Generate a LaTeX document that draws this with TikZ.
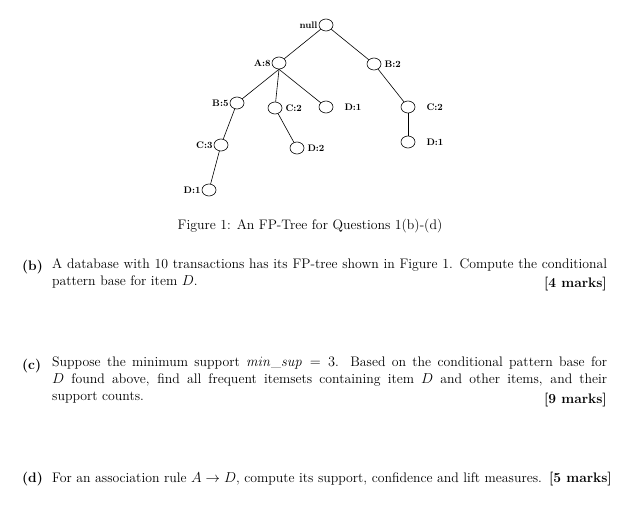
\documentclass[tikz,border=0pt]{standalone}
\usetikzlibrary{shapes.geometric}
\begin{document}
\begin{tikzpicture}[x=1pt,y=-1pt,
  nd/.style={draw,ellipse,minimum width=14pt,minimum height=12pt,inner sep=0pt,line width=0.6pt},
  lb/.style={font=\fontsize{9.5}{10}\selectfont\bfseries,inner sep=1pt},
  para/.style={anchor=north west,text width=555pt,align=justify,inner sep=0pt,font=\fontsize{13.8}{17}\selectfont},
  mk/.style={anchor=base east,inner sep=0pt,font=\fontsize{13.8}{17}\selectfont\bfseries},
  tag/.style={anchor=base west,inner sep=0pt,font=\fontsize{13.8}{17}\selectfont\bfseries},
  ed/.style={line width=0.6pt}]
\useasboundingbox (0,0) rectangle (623,508);
\node[nd] (n) at (326,25) {}; \node[lb,anchor=east] at (n.west) {null};
\node[nd] (a) at (279,63) {}; \node[lb,anchor=east] at (a.west) {A:8};
\node[nd] (b2) at (374,64) {}; \node[lb,anchor=west] at ([xshift=2pt]b2.east) {B:2};
\node[nd] (b5) at (237,103) {}; \node[lb,anchor=east] at (b5.west) {B:5};
\node[nd] (c2) at (275,108) {}; \node[lb,anchor=west] at ([xshift=2pt]c2.east) {C:2};
\node[nd] (d1m) at (326,107) {}; \node[lb,anchor=west] at ([xshift=10pt]d1m.east) {D:1};
\node[nd] (c2r) at (408,107) {}; \node[lb,anchor=west] at ([xshift=10pt]c2r.east) {C:2};
\node[nd] (c3) at (221,145) {}; \node[lb,anchor=east] at (c3.west) {C:3};
\node[nd] (d2) at (297,148) {}; \node[lb,anchor=west] at ([xshift=2pt]d2.east) {D:2};
\node[nd] (d1r) at (408,142) {}; \node[lb,anchor=west] at ([xshift=10pt]d1r.east) {D:1};
\node[nd] (d1b) at (209,190) {}; \node[lb,anchor=east] at (d1b.west) {D:1};
\draw[ed] (n)--(a); \draw[ed] (n)--(b2);
\draw[ed] (a.south)--(b5); \draw[ed] (a.south)--(c2); \draw[ed] (a.south)--(d1m);
\draw[ed] (b5)--(c3); \draw[ed] (c3)--(d1b); \draw[ed] (c2)--(d2);
\draw[ed] (b2)--(c2r); \draw[ed] (c2r)--(d1r);
\node[anchor=base,inner sep=0pt,font=\fontsize{13.8}{17}\selectfont] (cap) at (310,229) {Figure 1: An FP-Tree for Questions 1(b)-(d)};
\node[tag] (tb) at (22,270) {(b)};
\node[para] (pb) at (52,258) {A database with 10 transactions has its FP-tree shown in Figure 1. Compute the conditional\linebreak pattern base for item $D$.};
\node[mk] (mb) at (607,287) {[4 marks]};
\node[tag] (tc) at (22,369) {(c)};
\node[para] (pc) at (52,357) {Suppose the minimum support $\mathit{min\_sup}=3$. Based on the conditional pattern base for\linebreak $D$ found above, find all frequent itemsets containing item $D$ and other items, and their\linebreak support counts.};
\node[mk] (mc) at (607,403) {[9 marks]};
\node[tag] (td) at (22,482) {(d)};
\node[anchor=base west,inner sep=0pt,font=\fontsize{13.8}{17}\selectfont] (pd) at (52,482) {For an association rule $A\rightarrow D$, compute its support, confidence and lift measures.};
\node[mk] (md) at (612,482) {[5 marks]};
\end{tikzpicture}
\end{document}
